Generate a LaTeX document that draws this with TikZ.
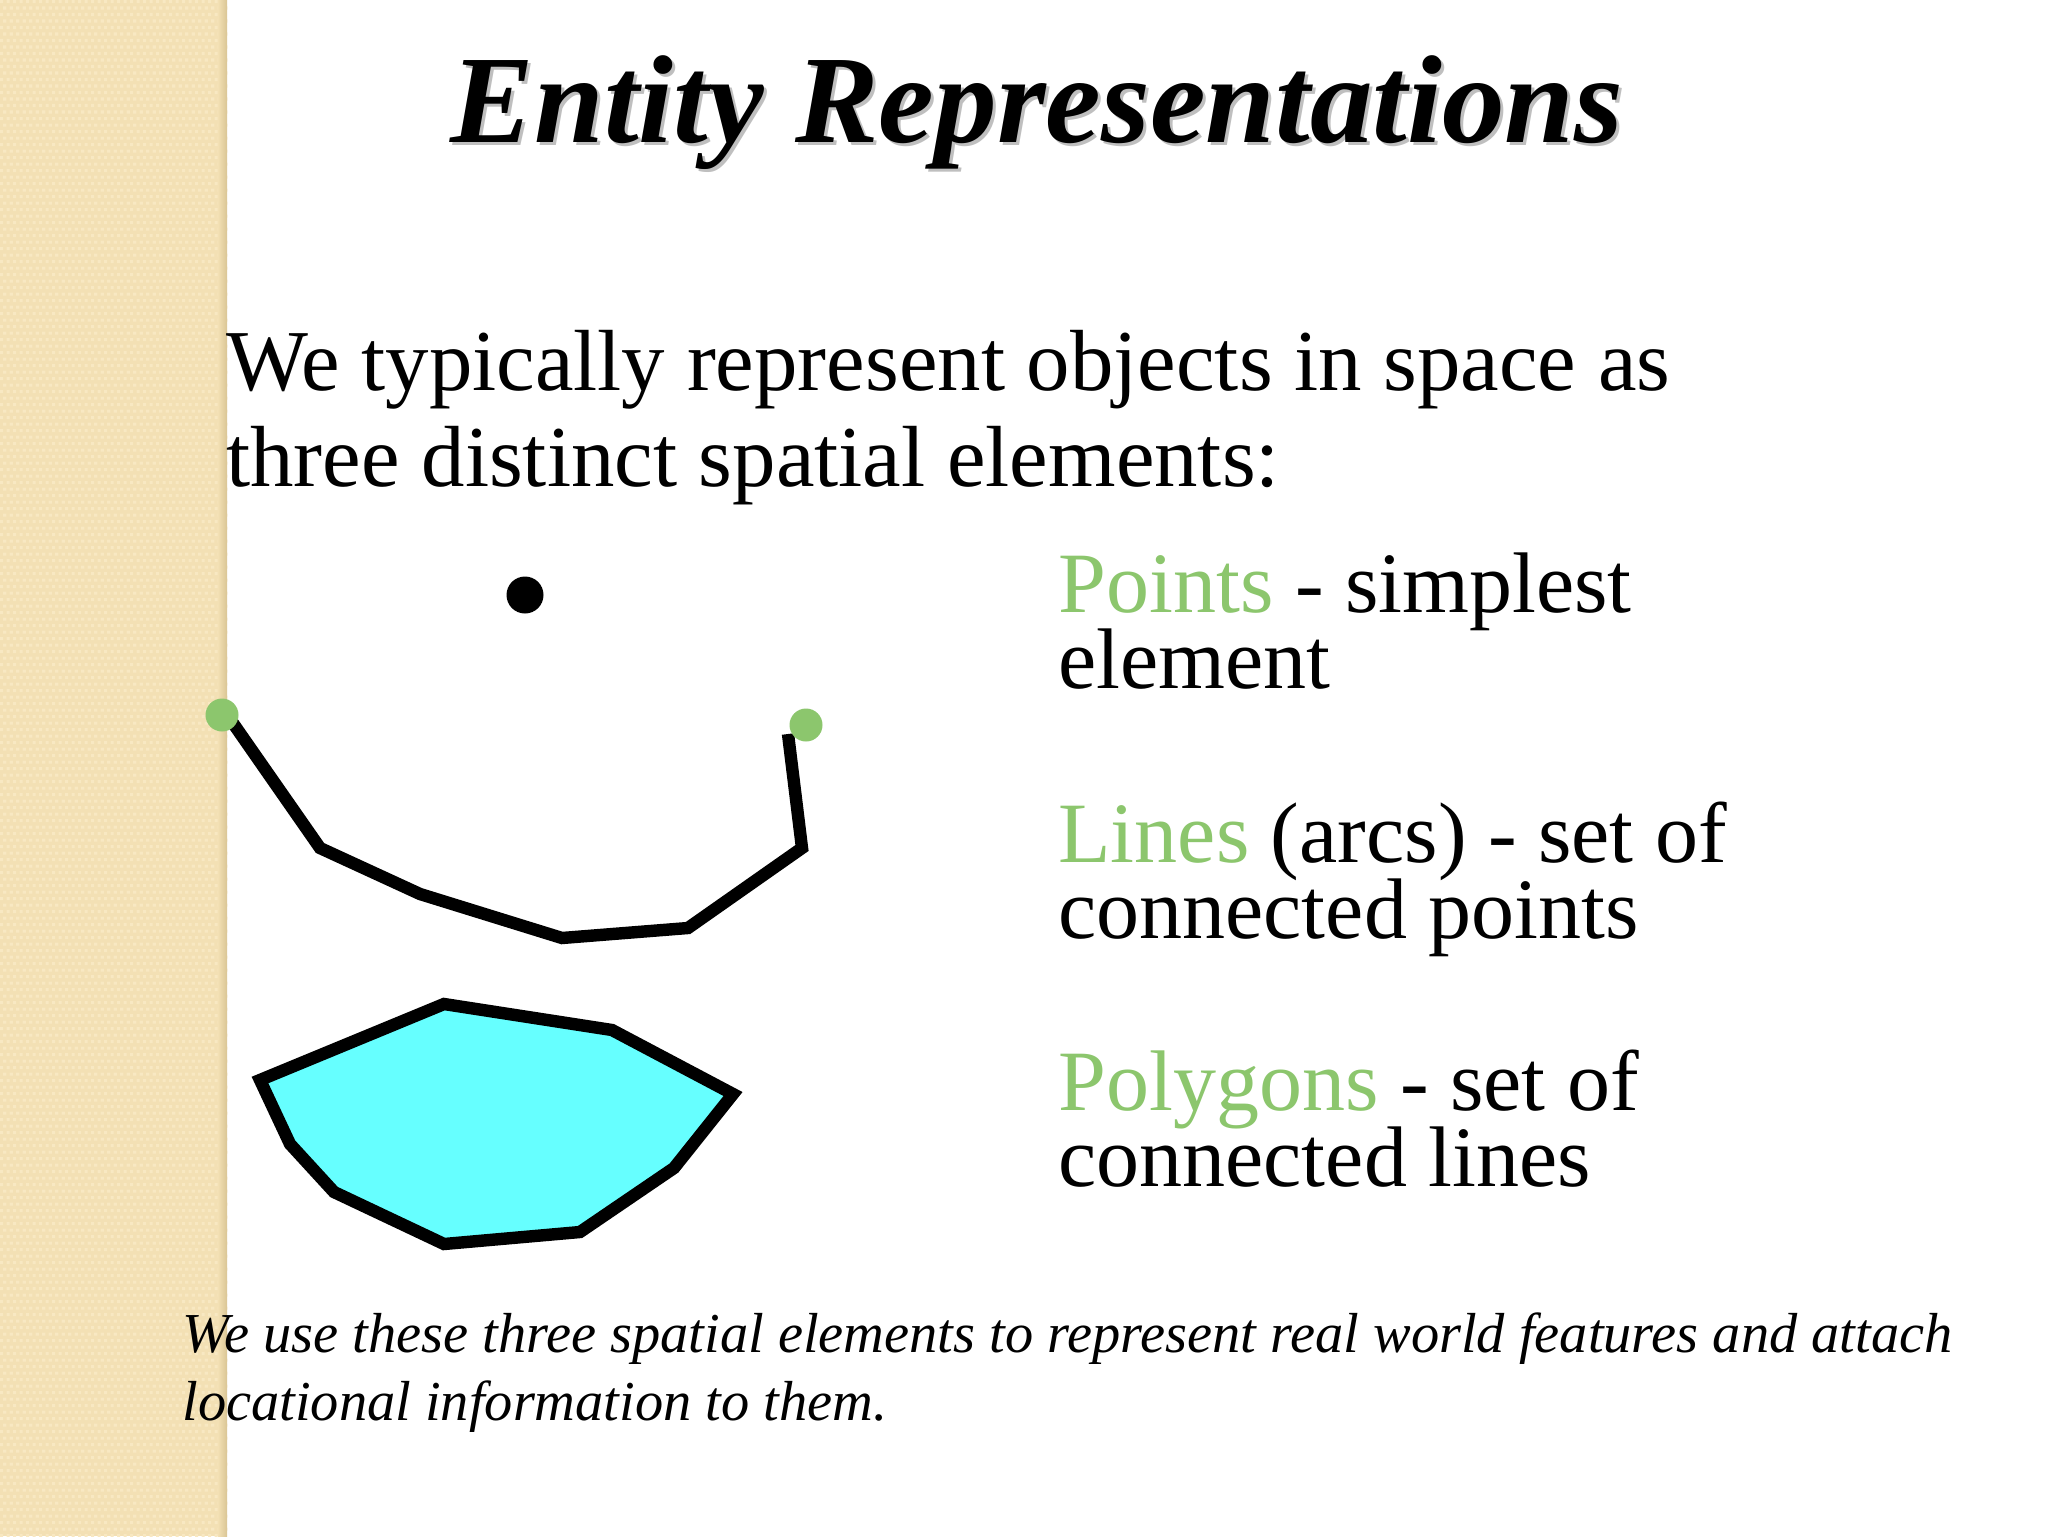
\documentclass[tikz,border=0pt]{standalone}
\usepackage{fontspec}
\setmainfont{Liberation Serif}
\usetikzlibrary{positioning}
\setlength{\lineskiplimit}{-20pt}
\definecolor{bandtan}{HTML}{F3E0B4}
\definecolor{bandlight}{HTML}{F8E8C2}
\definecolor{bandedge}{HTML}{D9C594}
\definecolor{leafgreen}{HTML}{8CC66D}
\definecolor{polycyan}{HTML}{66FFFF}
\tikzset{
	titletext/.style={inner sep=0pt, anchor=base, font=\bfseries\itshape\fontsize{62.6}{62}\selectfont},
	bodytext/.style={inner sep=0pt, anchor=base west, font=\fontsize{43.4}{43}\selectfont},
	itemtext/.style={inner sep=0pt, anchor=north west, align=left, font=\fontsize{43}{38}\selectfont},
	notetext/.style={inner sep=0pt, anchor=base west, font=\itshape\fontsize{28.2}{28}\selectfont},
	endpoint/.style={circle, fill=leafgreen, inner sep=0pt, minimum size=16.5pt},
	outline/.style={line width=6.2pt, black, line join=miter}
}
\begin{document}
\begin{tikzpicture}[x=1pt,y=-1pt]
	\useasboundingbox (0,0) rectangle (1024,768);
	\fill[white] (0,0) rectangle (1024,768);
	\fill[bandtan] (0,0) rectangle (113.5,768);
	% woven texture of the band
	\foreach \i in {0,...,34}
		\foreach \j in {0,...,118}
			\fill[bandlight] (\i*3.25,\j*6.5) rectangle +(1.6,1.6) (\i*3.25+1.6,\j*6.5+3.25) rectangle +(1.6,1.6);
	\shade[left color=bandtan, right color=bandedge] (109,0) rectangle (113.5,768);

	\node (titleshadow) [titletext, text=black!25] at (520,72.5) {Entity Representations};
	\node (title) [titletext] at (518.5,71) {Entity Representations};

	\node (introa) [bodytext] at (113,195) {We typically represent objects in space as};
	\node (introb) [bodytext] at (113,243) {three distinct spatial elements:};

	\node (points) [itemtext] at (529,276) {\textcolor{leafgreen}{Points} - simplest\\element};
	\node (lines) [itemtext] at (529,401) {\textcolor{leafgreen}{Lines} (arcs) - set of\\connected points};
	\node (polys) [itemtext] at (529,525) {\textcolor{leafgreen}{Polygons} - set of\\connected lines};

	\node (dot) [circle, fill=black, inner sep=0pt, minimum size=18.5pt] at (262.5,297.5) {};

	\draw[outline] (114,358) -- (160,424) -- (210,447) -- (281,469) -- (344,464) -- (401,424) -- (394,367);
	\node (enda) [endpoint] at (111,357.5) {};
	\node (endb) [endpoint] at (403,362.5) {};

	\draw[outline, fill=polycyan] (130,540) -- (222,502) -- (306,515) -- (366.5,547) -- (337,584) -- (290,616) -- (222,622) -- (167,596) -- (145,572) -- cycle;

	\node (notea) [notetext] at (91,676) {We use these three spatial elements to represent real world features and attach};
	\node (noteb) [notetext] at (91,710) {locational information to them.};
\end{tikzpicture}
\end{document}
